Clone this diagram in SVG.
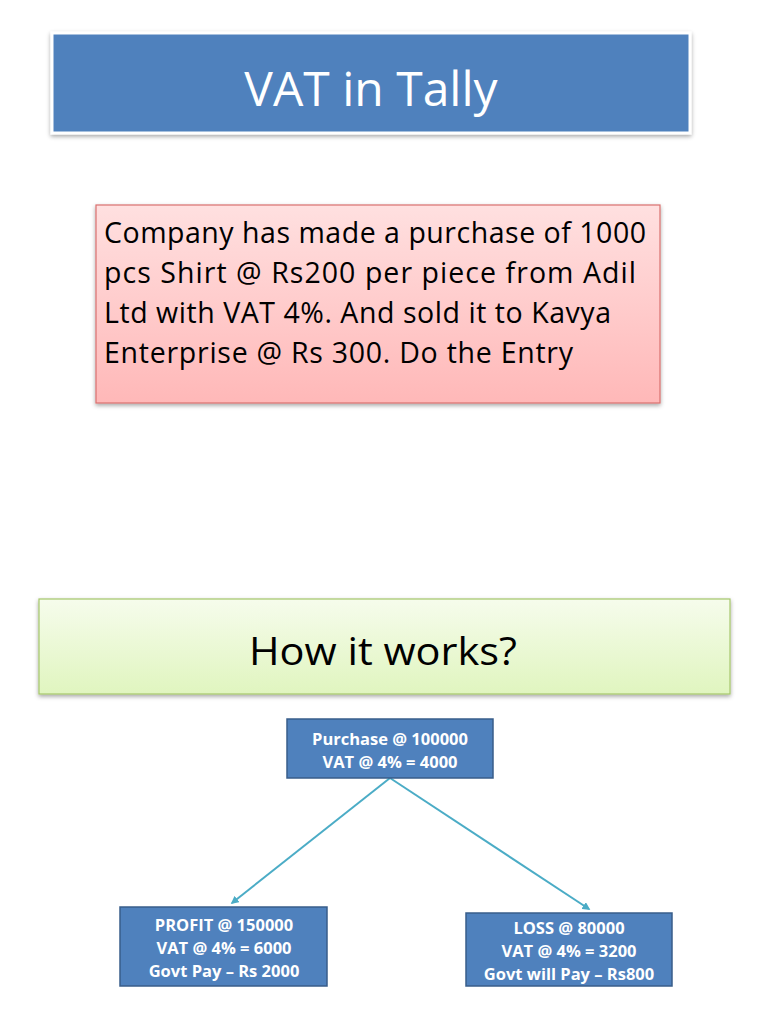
<svg xmlns="http://www.w3.org/2000/svg" width="768" height="1024" viewBox="0 0 768 1024">
<style>
.sans{font-family:"Open Sans","Liberation Sans",sans-serif}
.small{font-family:"Open Sans","Liberation Sans",sans-serif;font-weight:bold;font-size:16.5px;fill:#fff;text-anchor:middle}
.bluebox{fill:#4F81BD;stroke:#385D8A;stroke-width:1.5}
.conn{stroke:#4BACC6;stroke-width:2;fill:none;marker-end:url(#arr)}
</style>
<defs>
<linearGradient id="pink" x1="0" y1="0" x2="0" y2="1"><stop offset="0" stop-color="#FFE0E0"/><stop offset="1" stop-color="#FFB8B8"/></linearGradient>
<linearGradient id="green" x1="0" y1="0" x2="0" y2="1"><stop offset="0" stop-color="#F6FCEC"/><stop offset="1" stop-color="#E0F5BF"/></linearGradient>
<filter id="sh" x="-5%" y="-5%" width="110%" height="120%"><feDropShadow dx="0" dy="2" stdDeviation="2" flood-color="#000" flood-opacity="0.35"/></filter>
<marker id="arr" viewBox="0 0 10 10" refX="8" refY="5" markerWidth="4" markerHeight="4" orient="auto"><path d="M0,0 L10,5 L0,10 z" fill="#4BACC6"/></marker>
</defs>
<rect width="768" height="1024" fill="#fff"/>
<g id="title">
<rect x="52" y="33" width="638" height="100" fill="#4F81BD" stroke="#fff" stroke-width="3" filter="url(#sh)"/>
<text x="371" y="106" class="sans" font-size="48" fill="#fff" text-anchor="middle">VAT in Tally</text>
</g>
<g id="problem">
<rect x="96" y="205" width="564" height="198" fill="url(#pink)" stroke="#D9706E" stroke-width="1.2" filter="url(#sh)"/>
<text class="sans" font-size="28.5" fill="#000" lengthAdjust="spacingAndGlyphs">
<tspan x="104" y="243" textLength="542">Company has made a purchase of 1000</tspan>
<tspan x="104" y="283" textLength="532">pcs Shirt @ Rs200 per piece from Adil</tspan>
<tspan x="104" y="323" textLength="507">Ltd with VAT 4%. And sold it to Kavya</tspan>
<tspan x="104" y="363" textLength="469">Enterprise @ Rs 300. Do the Entry</tspan>
</text>
</g>
<g id="how">
<rect x="39" y="599" width="691" height="95" fill="url(#green)" stroke="#A5C66B" stroke-width="1.2" filter="url(#sh)"/>
<text x="383" y="665" class="sans" font-size="39" fill="#000" text-anchor="middle" textLength="268" lengthAdjust="spacingAndGlyphs">How it works?</text>
</g>
<g id="connectors">
<line class="conn" x1="390" y1="778" x2="232" y2="903"/>
<line class="conn" x1="390" y1="778" x2="589" y2="909"/>
</g>
<g id="purchase">
<rect class="bluebox" x="287" y="719" width="206" height="59"/>
<text class="small"><tspan x="390" y="745">Purchase @ 100000</tspan><tspan x="390" y="768">VAT @ 4% = 4000</tspan></text>
</g>
<g id="profit">
<rect class="bluebox" x="120" y="907" width="207" height="79"/>
<text class="small"><tspan x="224" y="931">PROFIT @ 150000</tspan><tspan x="224" y="954">VAT @ 4% = 6000</tspan><tspan x="224" y="977">Govt Pay – Rs 2000</tspan></text>
</g>
<g id="loss">
<rect class="bluebox" x="466" y="913" width="206" height="73"/>
<text class="small"><tspan x="569" y="934">LOSS @ 80000</tspan><tspan x="569" y="957">VAT @ 4% = 3200</tspan><tspan x="569" y="980">Govt will Pay – Rs800</tspan></text>
</g>
</svg>
